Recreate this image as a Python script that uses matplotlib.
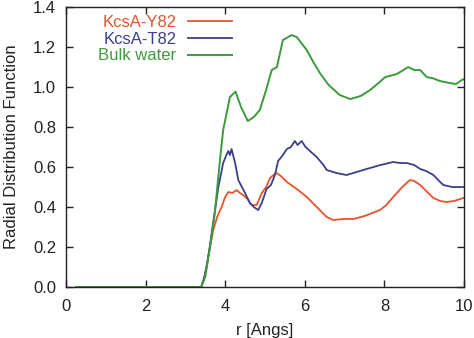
import matplotlib
matplotlib.use("Agg")
from matplotlib import pyplot as plt

plt.rcParams['font.family'] = ['Liberation Sans', 'DejaVu Sans']
plt.rcParams['font.size'] = 12

# curves (r in Angstrom, g(r))
r_y82 = [0.25, 3.40, 3.48, 3.55, 3.62, 3.70, 3.80, 3.91, 4.00, 4.08, 4.18, 4.29, 4.37, 4.45,
         4.56, 4.67, 4.79, 4.92, 5.03, 5.13, 5.21, 5.29, 5.40, 5.55, 5.80, 6.05, 6.30, 6.55,
         6.72, 6.95, 7.22, 7.50, 7.89, 8.05, 8.22, 8.45, 8.64, 8.75, 8.90, 9.05, 9.23, 9.40,
         9.56, 9.75, 9.98]
g_y82 = [0.0, 0.0, 0.05, 0.12, 0.20, 0.285, 0.35, 0.40, 0.45, 0.475, 0.47, 0.485, 0.47, 0.46,
         0.44, 0.41, 0.41, 0.47, 0.50, 0.545, 0.56, 0.57, 0.555, 0.525, 0.49, 0.45, 0.40, 0.35,
         0.335, 0.34, 0.34, 0.355, 0.385, 0.41, 0.45, 0.50, 0.535, 0.53, 0.51, 0.48, 0.445, 0.43,
         0.425, 0.43, 0.445]

r_t82 = [0.25, 3.40, 3.48, 3.55, 3.62, 3.72, 3.83, 3.95, 4.03, 4.08, 4.12, 4.16, 4.20, 4.25,
         4.33, 4.42, 4.50, 4.62, 4.72, 4.83, 4.92, 5.04, 5.15, 5.25, 5.33, 5.45, 5.55, 5.65,
         5.75, 5.82, 5.92, 6.02, 6.13, 6.30, 6.47, 6.55, 6.80, 7.05, 7.30, 7.55, 7.90, 8.22,
         8.40, 8.56, 8.75, 8.90, 9.05, 9.23, 9.35, 9.48, 9.70, 9.98]
g_t82 = [0.0, 0.0, 0.05, 0.12, 0.21, 0.35, 0.50, 0.62, 0.66, 0.68, 0.66, 0.69, 0.66, 0.62,
         0.535, 0.50, 0.47, 0.42, 0.40, 0.385, 0.42, 0.49, 0.51, 0.56, 0.63, 0.66, 0.69, 0.70,
         0.73, 0.71, 0.73, 0.70, 0.68, 0.65, 0.61, 0.585, 0.57, 0.56, 0.575, 0.59, 0.61, 0.625,
         0.62, 0.62, 0.61, 0.59, 0.58, 0.56, 0.535, 0.51, 0.50, 0.50]

r_bulk = [0.25, 3.40, 3.50, 3.62, 3.74, 3.87, 3.95, 4.12, 4.26, 4.40, 4.57, 4.72, 4.87, 5.02,
          5.17, 5.30, 5.45, 5.67, 5.80, 6.05, 6.20, 6.38, 6.60, 6.88, 7.14, 7.40, 7.64, 7.85,
          8.02, 8.31, 8.60, 8.75, 8.90, 9.06, 9.20, 9.40, 9.65, 9.80, 9.94, 10.0]
g_bulk = [0.0, 0.0, 0.05, 0.20, 0.37, 0.635, 0.785, 0.95, 0.977, 0.90, 0.83, 0.85, 0.885, 0.98,
          1.085, 1.10, 1.235, 1.26, 1.25, 1.185, 1.13, 1.07, 1.01, 0.96, 0.94, 0.955, 0.985, 1.02,
          1.05, 1.065, 1.10, 1.085, 1.085, 1.05, 1.045, 1.03, 1.02, 1.015, 1.035, 1.04]

labels = ["KcsA-Y82", "KcsA-T82", "Bulk water"]
colors = ["#e8532b", "#3b3f8c", "#3d9a3d"]

fig = plt.figure(figsize=(4.74, 3.38), dpi=100)
ax = fig.add_axes([0.139, 0.151, 0.840, 0.828])

ax.plot(r_y82, g_y82, color=colors[0], lw=1.3, label=labels[0])
ax.plot(r_t82, g_t82, color=colors[1], lw=1.3, label=labels[1])
ax.plot(r_bulk, g_bulk, color=colors[2], lw=1.4, label=labels[2])

ax.set_xlim(0, 10)
ax.set_ylim(0, 1.4)
ax.set_xticks([0, 2, 4, 6, 8, 10])
ax.set_yticks([0.0, 0.2, 0.4, 0.6, 0.8, 1.0, 1.2, 1.4])
ax.yaxis.set_major_formatter(matplotlib.ticker.FormatStrFormatter("%.1f"))
ax.tick_params(direction="in", top=True, right=True, length=5, width=1, colors="#222222",
               labelcolor="#222222")
ax.tick_params(axis="y", pad=7)
ax.tick_params(axis="x", pad=9)
for s in ax.spines.values():
    s.set_color("#222222")
    s.set_linewidth(1.0)

ax.set_xlabel("r [Angs]", color="#222222", labelpad=6)
ax.set_ylabel("Radial Distribution Function", color="#222222", labelpad=10)

leg = ax.legend(loc="upper left", bbox_to_anchor=(0.065, 0.995), frameon=False, markerfirst=False,
                labelcolor="linecolor", handlelength=2.6, handletextpad=0.7, labelspacing=0.1,
                borderaxespad=0)

fig.savefig("out.png", dpi=100)
